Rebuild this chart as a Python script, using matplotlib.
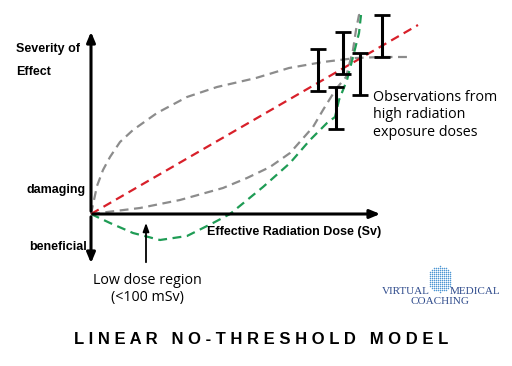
import matplotlib

matplotlib.use("Agg")

import matplotlib.pyplot as plt
import numpy as np

# Conceptual diagram: dose (x) vs severity of effect (y), arbitrary units,
# origin at the point where the two axes cross.
red_dose = [0, 327]
red_effect = [0, 189]

upper_dose = [0, 3, 6, 12, 19, 29, 42, 66, 96, 126, 165, 198, 232, 265, 290, 317]
upper_effect = [0, 14, 28, 44, 57, 72, 84, 101, 117, 127, 136, 146, 152, 156, 157, 157]

lower_dose = [0, 49, 89, 132, 156, 179, 199, 222, 232, 245, 255, 262, 265, 268, 269]
lower_effect = [0, 6, 14, 26, 36, 47, 61, 87, 104, 125, 137, 164, 184, 199, 199]

green_dose = [0, 19, 42, 69, 96, 122, 139, 172, 199, 219, 236, 244, 248, 256, 262, 268, 270]
green_effect = [0, -9, -19, -26, -22, -9, 0, 27, 51, 74, 91, 97, 114, 134, 157, 181, 199]

obs_dose = [227, 252, 245, 269, 291]
obs_effect = [144, 161, 106, 140, 178]
obs_err = [21, 21, 21, 21, 21]

fig = plt.figure(figsize=(5.12, 3.66), dpi=100)
ax = fig.add_axes([0, 0, 1, 1])
ax.set_xlim(-91, 421)
ax.set_ylim(-152, 214)
ax.axis("off")

dash = dict(linestyle=(0, (4, 2.5)), linewidth=1.6)
ax.plot(upper_dose, upper_effect, color="#8c8c8c", **dash)
ax.plot(lower_dose, lower_effect, color="#8c8c8c", **dash)
ax.plot(green_dose, green_effect, color="#1f9c55", **dash)
ax.plot(red_dose, red_effect, color="#d8202a", **dash)

ax.errorbar(obs_dose, obs_effect, yerr=obs_err, fmt="none", ecolor="black",
            elinewidth=2.2, capsize=5.5, capthick=2)

# axes drawn as arrows
arrow = dict(arrowstyle="-|>,head_length=0.6,head_width=0.25", color="black", lw=2.2)
ax.annotate("", xy=(0, 185), xytext=(0, 0), arrowprops=arrow)
ax.annotate("", xy=(0, -52), xytext=(0, 0), arrowprops=arrow)
ax.annotate("", xy=(292, 0), xytext=(-1, 0), arrowprops=arrow)
ax.annotate("", xy=(55, -6), xytext=(55, -51),
            arrowprops=dict(arrowstyle="-|>,head_length=0.5,head_width=0.18",
                            color="black", lw=1.3))

bold = dict(family="Liberation Sans", fontweight="bold", fontsize=9, color="black")
ax.text(-75, 165, "Severity of", va="center", **bold)
ax.text(-75, 142, "Effect", va="center", **bold)
ax.text(-5, 24, "damaging", va="center", ha="right", **bold)
ax.text(-4, -33, "beneficial", va="center", ha="right", **bold)
ax.text(116, -18, "Effective Radiation Dose (Sv)", va="center", **bold)

ax.text(282, 99, "Observations from\nhigh radiation\nexposure doses",
        family="Open Sans", fontsize=10.3, va="center", linespacing=1.25)
ax.text(56, -75, "Low dose region\n(<100 mSv)", family="Open Sans", fontsize=10.3,
        va="center", ha="center", linespacing=1.2)

title = "   ".join(" ".join(word) for word in "LINEAR NO-THRESHOLD MODEL".split())
ax.text(170, -126, title, family="Liberation Sans", fontweight="bold",
        fontsize=12, ha="center", va="center")

# logo
gx, gy = np.meshgrid(np.arange(-12, 12.5, 2), np.arange(-13, 13.5, 2))
keep = gx**2 / 12**2 + gy**2 / 13**2 <= 1
ax.scatter(gx[keep] + 349, gy[keep] - 65, s=1.2, color="#4f97d3", lw=0)
ax.text(315, -78, "VIRTUAL", family="Liberation Serif", fontsize=8,
        color="#2f4b8c", ha="center", va="center")
ax.text(384, -78, "MEDICAL", family="Liberation Serif", fontsize=8,
        color="#2f4b8c", ha="center", va="center")
ax.text(349, -87, "COACHING", family="Liberation Serif", fontsize=8,
        color="#2f4b8c", ha="center", va="center")

fig.savefig("out.png", dpi=100)
